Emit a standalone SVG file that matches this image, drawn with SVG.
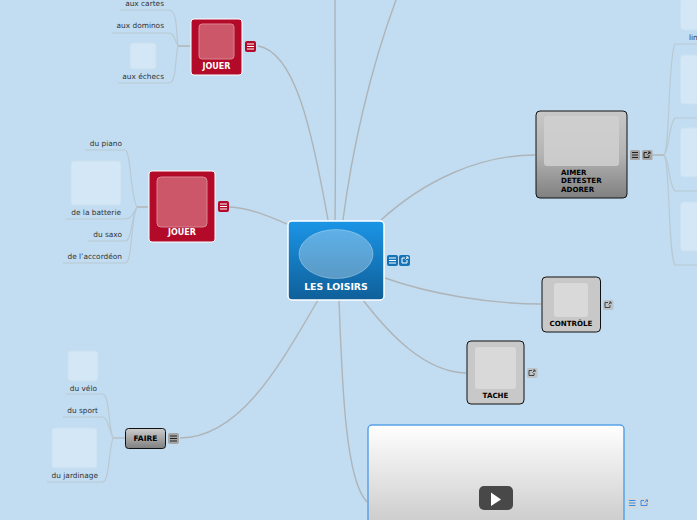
<svg xmlns="http://www.w3.org/2000/svg" width="697" height="520" viewBox="0 0 697 520">
<style>
text{font-family:"DejaVu Sans",Verdana,sans-serif}
.l{font-size:7.4px;fill:#333;text-anchor:end}
.b{font-size:7.1px;font-weight:bold;fill:#000;text-anchor:middle}
.w{font-size:8px;font-weight:bold;fill:#fff;text-anchor:middle}
.c{fill:none;stroke:#aeb4b8;stroke-width:1.4}
.s{fill:none;stroke:#b9c9d4;stroke-width:1.2}
.p{fill:#d3e7f6;stroke:#cbe0f0;stroke-width:1}
.ic{fill:none;stroke:#fff;stroke-width:1}
.icd{fill:none;stroke:#222;stroke-width:1}
.icb{fill:none;stroke:#3a8ce0;stroke-width:1}
</style>
<defs>
<linearGradient id="gb" x1="0" y1="0" x2="0" y2="1"><stop offset="0" stop-color="#1b95e6"/><stop offset="1" stop-color="#0f5f99"/></linearGradient>
<linearGradient id="gg" x1="0" y1="0" x2="0" y2="1"><stop offset="0" stop-color="#c8c8c8"/><stop offset="0.5" stop-color="#b4b4b4"/><stop offset="1" stop-color="#808080"/></linearGradient>
<linearGradient id="gf" x1="0" y1="0" x2="0" y2="1"><stop offset="0" stop-color="#cdcdcd"/><stop offset="1" stop-color="#7f7f7f"/></linearGradient>
<linearGradient id="gv" x1="0" y1="0" x2="0" y2="1"><stop offset="0" stop-color="#ffffff"/><stop offset="1" stop-color="#c6c6c6"/></linearGradient>
</defs>
<rect width="697" height="520" fill="#c2ddf1"/>
<g id="connectors">
<path class="c" d="M258 46C295 52 312 130 328 220"/>
<path class="c" d="M229 207C250 208 268 216 287 224"/>
<path class="c" d="M335 0C335 80 336 150 335 220"/>
<path class="c" d="M396 0C370 70 352 150 343 220"/>
<path class="c" d="M535 155C480 155 425 180 381 220"/>
<path class="c" d="M385 278C430 294 490 304 541 304"/>
<path class="c" d="M363 300C390 335 425 372 466 373"/>
<path class="c" d="M339 300C342 380 345 480 367 502"/>
<path class="c" d="M180 438C240 438 280 365 318 300"/>
<path class="s" d="M120 10H169C178 10 176 35 178 46"/>
<path class="s" d="M112 33H169C175 33 175 42 178 46"/>
<path class="s" d="M118 83H169C177 83 175 55 178 46"/>
<path d="M178 46H190" stroke="#b5bfc6" stroke-width="2" fill="none"/>
<path class="s" d="M85 150H125C131 150 130 195 137 207"/>
<path class="s" d="M66 219H125C132 219 133 213 137 207"/>
<path class="s" d="M88 241H125C132 241 131 218 137 207"/>
<path class="s" d="M63 263H125C133 263 130 220 137 207"/>
<path d="M137 207H148" stroke="#b5bfc6" stroke-width="2" fill="none"/>
<path class="s" d="M66 394H102C110 394 108 425 113 438"/>
<path class="s" d="M63 417H102C108 417 109 430 113 438"/>
<path class="s" d="M47 482H102C110 482 108 452 113 438"/>
<path d="M113 438H125" stroke="#b5bfc6" stroke-width="1.5" fill="none"/>
<path class="s" d="M664 155C670 150 668 55 675 44H697"/>
<path class="s" d="M664 155C670 150 668 125 675 118H697"/>
<path class="s" d="M664 155C670 160 668 184 675 191H697"/>
<path class="s" d="M664 155C670 160 668 255 675 265H697"/>
<path d="M653 155H664" stroke="#b5bfc6" stroke-width="2" fill="none"/>
</g>
<g id="node-center">
<rect x="288" y="221" width="96" height="79" rx="4" fill="url(#gb)" stroke="#fff" stroke-width="1.5"/>
<ellipse cx="336" cy="254" rx="37" ry="24.500" fill="#fff" fill-opacity="0.3" stroke="#fff" stroke-opacity="0.3"/>
<text x="336" y="290" class="w" style="font-size:9.400px">LES LOISIRS</text>
<rect x="387" y="255" width="11" height="11" rx="2" fill="#1574b8"/>
<path class="ic" d="M389 258H396M389 260.500H396M389 263H396"/>
<rect x="399" y="255" width="11" height="11" rx="2" fill="#1574b8"/>
<path class="ic" d="M405 258H402V263H407V260M405.500 259.500L408 257M406 257H408V259"/>
</g>
<g id="node-jouer1">
<rect x="191" y="19" width="51" height="56" rx="3" fill="#b30a2a" stroke="#fff"/>
<rect x="199" y="24" width="35" height="35" rx="3" fill="#cb5768" stroke="#d98592"/>
<text x="216.500" y="69" class="w">JOUER</text>
<rect x="245" y="41" width="11" height="11" rx="2" fill="#b30a2a"/>
<path class="ic" d="M247 44H254M247 46.500H254M247 49H254"/>
</g>
<g id="node-aux-cartes"><text x="164" y="6" class="l">aux cartes</text></g>
<g id="node-aux-dominos"><text x="164" y="28" class="l">aux dominos</text></g>
<g id="node-aux-echecs">
<rect x="130" y="43" width="26" height="26" rx="3" class="p"/>
<text x="164" y="79" class="l">aux échecs</text>
</g>
<g id="node-jouer2">
<rect x="149" y="171" width="66" height="71" rx="3" fill="#b30a2a" stroke="#fff"/>
<rect x="157" y="177" width="50" height="50" rx="4" fill="#cb5768" stroke="#d98592"/>
<text x="182" y="235" class="w">JOUER</text>
<rect x="218" y="201" width="11" height="11" rx="2" fill="#b30a2a"/>
<path class="ic" d="M220 204H227M220 206.500H227M220 209H227"/>
</g>
<g id="node-piano"><text x="122" y="146" class="l">du piano</text></g>
<g id="node-batterie">
<rect x="71" y="161" width="50" height="44" rx="3" class="p"/>
<text x="121" y="215" class="l">de la batterie</text>
</g>
<g id="node-saxo"><text x="122" y="237" class="l">du saxo</text></g>
<g id="node-accordeon"><text x="122" y="259" class="l">de l’accordéon</text></g>
<g id="node-faire">
<rect x="125.500" y="428.500" width="40" height="20" rx="3" fill="url(#gf)" stroke="#111"/>
<text x="145.500" y="441" class="b" style="font-size:7.500px">FAIRE</text>
<rect x="168" y="433" width="11" height="11" rx="2" fill="#a5a5a5"/>
<path class="icd" d="M170 436H177M170 438.500H177M170 441H177"/>
</g>
<g id="node-velo">
<rect x="68" y="351" width="30" height="30" rx="3" class="p"/>
<text x="97" y="391" class="l">du vélo</text>
</g>
<g id="node-sport"><text x="98" y="413" class="l">du sport</text></g>
<g id="node-jardinage">
<rect x="52" y="428" width="45" height="40" rx="3" class="p"/>
<text x="98" y="478" class="l">du jardinage</text>
</g>
<g id="node-aimer">
<rect x="536" y="111" width="91" height="87" rx="4" fill="url(#gg)" stroke="#111"/>
<rect x="544" y="116" width="75" height="50" rx="3" fill="#d0d0d0" fill-opacity="0.85"/>
<text x="561" y="175" class="b" style="text-anchor:start">AIMER</text>
<text x="561" y="183" class="b" style="text-anchor:start">DETESTER</text>
<text x="561" y="192" class="b" style="text-anchor:start">ADORER</text>
<rect x="630" y="150" width="10" height="10" rx="1.500" fill="#a5a5a5"/>
<path class="icd" d="M632 152.500H638M632 155H638M632 157.500H638"/>
<rect x="642" y="150" width="10.500" height="10" rx="1.500" fill="#a5a5a5"/>
<path class="icd" d="M647 152.500H644V157.500H649V155M647.500 154.500L650 152M648 152H650V154"/>
</g>
<g id="node-lin">
<rect x="680.500" y="-2" width="30" height="32" rx="3" class="p"/>
<text x="689" y="40" style="font-size:7.400px;fill:#333">lin</text>
</g>
<g id="node-r2"><rect x="680.500" y="55" width="30" height="49" rx="3" class="p"/></g>
<g id="node-r3"><rect x="680.500" y="128" width="30" height="49" rx="3" class="p"/></g>
<g id="node-r4"><rect x="680.500" y="202" width="30" height="49" rx="3" class="p"/></g>
<g id="node-controle">
<rect x="542" y="277" width="58.500" height="55" rx="4" fill="#c8c8c8" stroke="#111"/>
<rect x="554" y="283" width="34" height="34" rx="3" fill="#d9d9d9"/>
<text x="571" y="326" class="b">CONTRÔLE</text>
<rect x="603" y="300" width="10.500" height="10" rx="1.500" fill="#bcc4c9"/>
<path class="icd" style="stroke:#444" d="M608 302.500H605V307.500H610V305M608.500 304.500L611 302M609 302H611V304"/>
</g>
<g id="node-tache">
<rect x="467" y="341" width="57" height="63" rx="4" fill="#c8c8c8" stroke="#111"/>
<rect x="475" y="347" width="41" height="42" rx="3" fill="#d9d9d9"/>
<text x="495.500" y="398" class="b">TACHE</text>
<rect x="527" y="368" width="10.500" height="10" rx="1.500" fill="#bcc4c9"/>
<path class="icd" style="stroke:#444" d="M532 370.500H529V375.500H534V373M532.500 372.500L535 370M533 370H535V372"/>
</g>
<g id="node-video">
<rect x="368" y="425" width="256" height="110" rx="4" fill="url(#gv)" stroke="#5aa2e6" stroke-width="1.500"/>
<rect x="479" y="486" width="34" height="24" rx="5" fill="#484848"/>
<path d="M491 492.500V506L501 499.500Z" fill="#fff"/>
<rect x="627" y="498" width="10.500" height="10.500" rx="2" fill="#cfd8de"/>
<path class="icb" d="M629 500.500H635.500M629 503H635.500M629 505.500H635.500"/>
<rect x="639" y="498" width="10.500" height="10.500" rx="2" fill="#cfd8de"/>
<path class="icb" d="M644 500.500H641V505.500H647V503M644.500 502.500L647.500 500M645.500 500H647.500V502"/>
</g>
</svg>
